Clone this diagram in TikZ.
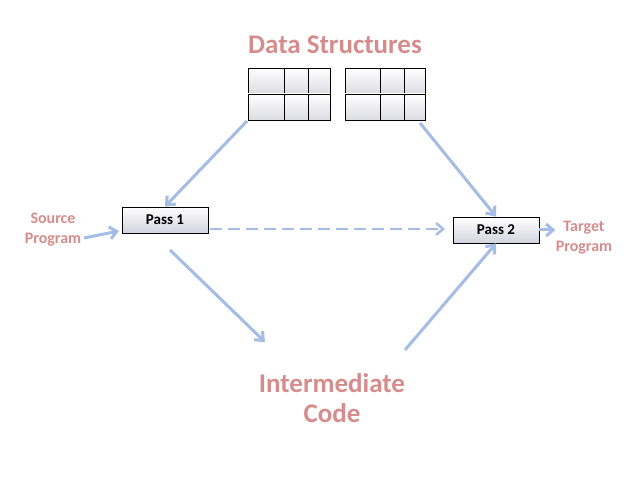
\documentclass[tikz,border=0pt]{standalone}
\usepackage{fontspec}
\setmainfont{Carlito}
\usetikzlibrary{arrows.meta}
\definecolor{lbl}{RGB}{214,140,140}
\definecolor{arr}{RGB}{165,188,228}
\begin{document}
\begin{tikzpicture}[x=1pt,y=-1pt,
  pass/.style={draw=black,line width=0.9pt,top color=white,bottom color=blue!15!gray!30,minimum width=86pt,minimum height=26pt,inner sep=0pt,font=\bfseries\fontsize{15}{15}\selectfont},
  lab/.style={text=lbl,font=\bfseries\fontsize{16}{20}\selectfont,align=center},
  big/.style={text=lbl,font=\bfseries\fontsize{27}{30}\selectfont,align=center},
  flow/.style={draw=arr,line width=3pt,-{Straight Barb[length=7pt,width=12pt]}},
  cell/.style={draw=black,line width=0.9pt,top color=white,bottom color=blue!12!gray!25}]
\useasboundingbox (0,0) rectangle (638,478);
\foreach \a/\b in {248/284,284/308,308/330,345/380,380/404,404/425}{
  \draw[cell] (\a,68) rectangle (\b,94);
  \draw[cell] (\a,94) rectangle (\b,120);}
\coordinate (tl) at (247,121);
\coordinate (tr) at (420,123);
\node[big] (ds) at (335,45) {Data Structures};
\node[pass] (p1) at (165,220) {Pass 1};
\node[pass] (p2) at (496,230) {Pass 2};
\node[lab] (src) at (53,230) {Source\\Program};
\node[lab] (tgt) at (584,238) {Target\\Program};
\node[big] (ic) at (332,398) {Intermediate\\Code};
\coordinate (ica) at (170,250);
\coordinate (icb) at (405,350);
\coordinate (ds1) at (210,229);
\coordinate (ds2) at (445,229);
\coordinate (s1) at (84,238);
\coordinate (s2) at (119,231);
\draw[flow] (tl) -- (p1.north);
\draw[flow] (tr) -- (p2.north);
\draw[flow] (s1) -- (s2);
\draw[flow,dash pattern=on 12pt off 6pt,line width=2.5pt] (ds1) -- (ds2);
\draw[flow] (ica) -- (265,342) coordinate (icc);
\draw[flow] (icb) -- (p2.south);
\draw[flow] (p2.east) -- ++(16,0);
\end{tikzpicture}
\end{document}
